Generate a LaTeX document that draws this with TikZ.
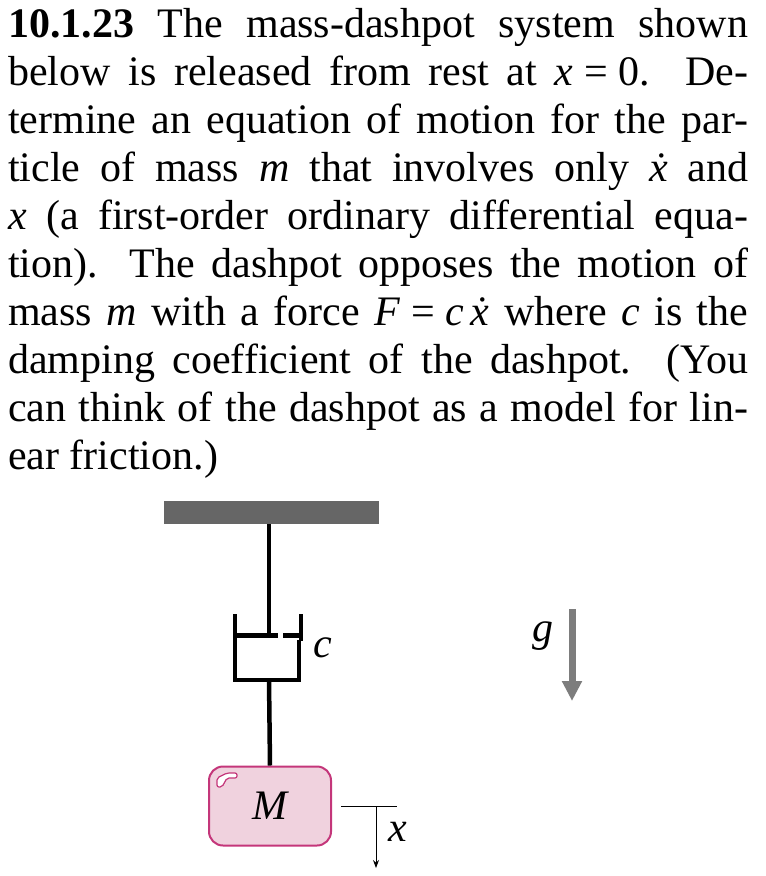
\documentclass[tikz,border=0pt]{standalone}
\usepackage{fontspec}
\setmainfont{Liberation Serif}
\usetikzlibrary{arrows.meta}
\definecolor{bargray}{HTML}{666666}
\definecolor{massfill}{HTML}{F0D2DE}
\definecolor{massline}{HTML}{C4367A}
\newcommand{\myeq}{\kern0.25em=\kern0.25em}
\tikzset{rod/.style={line width=4.5pt},
  lbl/.style={font=\fontsize{42}{42}\selectfont\itshape, inner sep=0pt}}
\begin{document}
\begin{tikzpicture}[x=1pt,y=-1pt]
\useasboundingbox (0,0) rectangle (766,876);
\node[anchor=north west, inner sep=0pt, text width=740pt, align=justify] (txt) at (8,8)
{\fontsize{42}{48}\selectfont
\textbf{10.1.23} The mass-dashpot system shown\linebreak
below is released from rest at \textit{x}\myeq 0. De-\linebreak
termine an equation of motion for the par-\linebreak
ticle of mass \textit{m} that involves only \textit{\.x} and\linebreak
\textit{x} (a first-order ordinary differential equa-\linebreak
tion). The dashpot opposes the motion of\linebreak
mass \textit{m} with a force \textit{F}\myeq\textit{c\,\.x} where \textit{c} is the\linebreak
damping coefficient of the dashpot. (You\linebreak
can think of the dashpot as a model for lin-\linebreak
ear friction.)\par};
% support
\fill[bargray] (164,501) rectangle (379,524);
\coordinate (top) at (269,524);
\coordinate (pist) at (269,635);
\draw[rod] (top) -- (pist);
% piston
\draw[line width=5pt] (235,635) -- (278,635);
\draw[line width=5pt] (283,635) -- (301,635);
% cylinder
\draw[line width=4.5pt] (235,614) -- (235,680) -- (299,680) -- (299,640);
\draw[line width=4.5pt] (301,614) -- (301,641);
\node[lbl] (c) at (323,648) {c};
% mass
\node[draw=massline, fill=massfill, line width=2pt, rounded corners=14pt,
  minimum width=122pt, minimum height=79pt] (M) at (270,806) {};
\node[lbl] at (M) {M};
\draw[rod] (269,680) -- (M.north);
\draw[massline, fill=white, line width=1.2pt, rounded corners=2pt]
  (217,787) -- (217,778) -- (227,773) -- (237,773) -- (237,778) -- (227,778) -- (222,787) -- cycle;
% x arrow
\coordinate (xa) at (341,806);
\coordinate (xb) at (397,806);
\draw[line width=0.9pt] (xa) -- (xb);
\coordinate (xs) at (376,806);
\coordinate (xe) at (376,868);
\draw[line width=0.9pt, -{Stealth[length=8pt,width=6pt]}] (xs) -- (xe);
\node[lbl] at (398,832) {x};
% gravity
\coordinate (gs) at (572,609);
\coordinate (ge) at (572,701);
\draw[bargray!85, line width=7pt, -{Triangle[length=20pt,width=19pt]}] (gs) -- (ge);
\node[lbl] at (543,636) {g};
\end{tikzpicture}
\end{document}
